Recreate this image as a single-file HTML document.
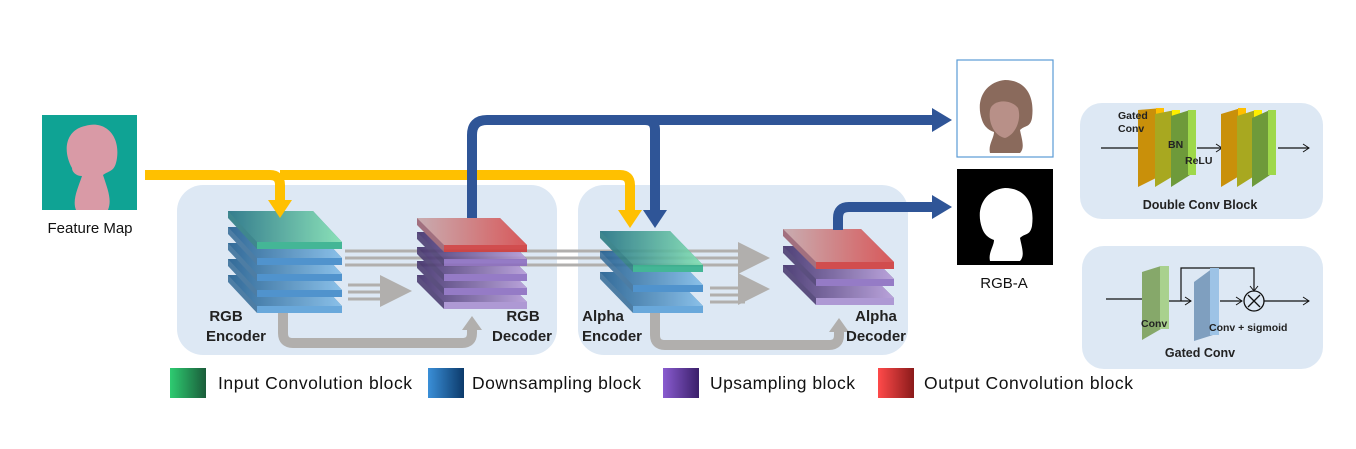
<!DOCTYPE html>
<html><head><meta charset="utf-8"><style>
html,body{margin:0;padding:0;background:#fff;}
svg{display:block;font-family:"Liberation Sans",Calibri,sans-serif;}
</style></head><body>
<svg width="1356" height="449" viewBox="0 0 1356 449" xmlns="http://www.w3.org/2000/svg">
<defs>
<linearGradient id="gG" x1="0" x2="1"><stop offset="0" stop-color="#1e6f80"/><stop offset="1" stop-color="#7fe0b0"/></linearGradient>
<linearGradient id="gB" x1="0" x2="1"><stop offset="0" stop-color="#1c5a8c"/><stop offset="1" stop-color="#7fbbe8"/></linearGradient>
<linearGradient id="gP" x1="0" x2="1"><stop offset="0" stop-color="#3c2a66"/><stop offset="1" stop-color="#b59ad8"/></linearGradient>
<linearGradient id="gR" x1="0" x2="1"><stop offset="0" stop-color="#c6a5a8"/><stop offset="1" stop-color="#d84545"/></linearGradient>
<linearGradient id="lG" x1="0" x2="1"><stop offset="0" stop-color="#2ecc71"/><stop offset="1" stop-color="#1a5c3a"/></linearGradient>
<linearGradient id="lB" x1="0" x2="1"><stop offset="0" stop-color="#3a8fd8"/><stop offset="1" stop-color="#0c3a6a"/></linearGradient>
<linearGradient id="lP" x1="0" x2="1"><stop offset="0" stop-color="#8a5cd0"/><stop offset="1" stop-color="#3a1f6a"/></linearGradient>
<linearGradient id="lR" x1="0" x2="1"><stop offset="0" stop-color="#ff4a4a"/><stop offset="1" stop-color="#8a1a1a"/></linearGradient>
</defs>

<rect x="177" y="185" width="380" height="170" rx="26" fill="#dde8f4"/>
<rect x="578" y="185" width="330" height="170" rx="26" fill="#dde8f4"/>
<rect x="1080" y="103" width="243" height="116" rx="22" fill="#dde8f4"/>
<rect x="1082" y="246" width="241" height="123" rx="22" fill="#dde8f4"/>

<rect x="42" y="115" width="95" height="95" fill="#0fa394"/>
<path d="M72 168 C62 150 66 130 85 126 C105 120 120 135 117 158 C115 172 110 170 103 175 C108 190 112 200 108 210 L76 210 C72 200 78 188 82 176 C76 176 72 172 72 168Z" fill="#d99aa6"/>
<text x="90" y="233" font-size="15" text-anchor="middle" fill="#111">Feature Map</text>

<rect x="957" y="60" width="96" height="97" fill="#fff" stroke="#5b9bd5" stroke-width="1.2"/>
<path d="M982 120 C975 100 985 82 1005 80 C1025 80 1035 95 1032 118 C1030 128 1025 125 1020 130 C1022 140 1025 148 1020 153 L990 153 C988 145 994 138 994 132 C988 130 984 126 982 120Z" fill="#8a6a5c"/>
<path d="M990 110 C992 100 1010 98 1018 108 C1022 120 1015 135 1005 138 C995 136 988 124 990 110Z" fill="#b89088"/>
<rect x="957" y="169" width="96" height="96" fill="#000"/>
<path d="M982 228 C975 208 985 190 1005 188 C1025 188 1035 203 1032 226 C1030 236 1025 233 1020 238 C1022 248 1025 256 1020 261 L990 261 C988 253 994 246 994 240 C988 238 984 234 982 228Z" fill="#fff"/>
<text x="1004" y="288" font-size="15" text-anchor="middle" fill="#111">RGB-A</text>

<g stroke="#b1afad" stroke-width="3" fill="none">
<line x1="345" y1="251" x2="745" y2="251"/><line x1="345" y1="258" x2="745" y2="258"/><line x1="345" y1="265" x2="745" y2="265"/>
<line x1="348" y1="285" x2="385" y2="285"/><line x1="348" y1="292" x2="385" y2="292"/><line x1="348" y1="299" x2="385" y2="299"/>
<line x1="710" y1="288" x2="745" y2="288"/><line x1="710" y1="295" x2="745" y2="295"/><line x1="710" y1="302" x2="745" y2="302"/>
</g>
<polygon points="380,275 412,291 380,307" fill="#b1afad"/>
<polygon points="738,242 770,258 738,274" fill="#b1afad"/>
<polygon points="738,273 770,289 738,305" fill="#b1afad"/>
<path d="M283 313 V333 Q283 343 293 343 H462 Q472 343 472 333 V328" stroke="#b1afad" stroke-width="10" fill="none"/>
<polygon points="462,330 472,316 482,330" fill="#b1afad"/>
<path d="M655 313 V335 Q655 345 665 345 H829 Q839 345 839 335 V330" stroke="#b1afad" stroke-width="10" fill="none"/>
<polygon points="829,332 839,318 849,332" fill="#b1afad"/>

<g opacity="0.88">
<polygon points="228,275 313,275 342,306 342,313 257,313 228,282" fill="#3a6f9a"/><polygon points="228,275 313,275 342,306 257,306" fill="url(#gB)"/><polygon points="257,306 342,306 342,313 257,313" fill="#5aa0d8"/>
<polygon points="228,259 313,259 342,290 342,297 257,297 228,266" fill="#3a6f9a"/><polygon points="228,259 313,259 342,290 257,290" fill="url(#gB)"/><polygon points="257,290 342,290 342,297 257,297" fill="#3d88c8"/>
<polygon points="228,243 313,243 342,274 342,281 257,281 228,250" fill="#3a6f9a"/><polygon points="228,243 313,243 342,274 257,274" fill="url(#gB)"/><polygon points="257,274 342,274 342,281 257,281" fill="#3d88c8"/>
<polygon points="228,227 313,227 342,258 342,265 257,265 228,234" fill="#3a6f9a"/><polygon points="228,227 313,227 342,258 257,258" fill="url(#gB)"/><polygon points="257,258 342,258 342,265 257,265" fill="#3d88c8"/>
<polygon points="228,211 313,211 342,242 342,249 257,249 228,218" fill="#2a7a80"/><polygon points="228,211 313,211 342,242 257,242" fill="url(#gG)"/><polygon points="257,242 342,242 342,249 257,249" fill="#2fb08a"/>
</g>
<g opacity="0.88">
<polygon points="417,275 500,275 527,302 527,309 444,309 417,282" fill="#4a3a70"/><polygon points="417,275 500,275 527,302 444,302" fill="url(#gP)"/><polygon points="444,302 527,302 527,309 444,309" fill="#a88fd0"/>
<polygon points="417,261 500,261 527,288 527,295 444,295 417,268" fill="#4a3a70"/><polygon points="417,261 500,261 527,288 444,288" fill="url(#gP)"/><polygon points="444,288 527,288 527,295 444,295" fill="#8c6cc0"/>
<polygon points="417,247 500,247 527,274 527,281 444,281 417,254" fill="#4a3a70"/><polygon points="417,247 500,247 527,274 444,274" fill="url(#gP)"/><polygon points="444,274 527,274 527,281 444,281" fill="#8c6cc0"/>
<polygon points="417,232 500,232 527,259 527,266 444,266 417,239" fill="#4a3a70"/><polygon points="417,232 500,232 527,259 444,259" fill="url(#gP)"/><polygon points="444,259 527,259 527,266 444,266" fill="#8c6cc0"/>
<polygon points="417,218 500,218 527,245 527,252 444,252 417,225" fill="#9a6070"/><polygon points="417,218 500,218 527,245 444,245" fill="url(#gR)"/><polygon points="444,245 527,245 527,252 444,252" fill="#d03838"/>
</g>
<g opacity="0.88">
<polygon points="600,272 670,272 703,306 703,313 633,313 600,279" fill="#3a6f9a"/><polygon points="600,272 670,272 703,306 633,306" fill="url(#gB)"/><polygon points="633,306 703,306 703,313 633,313" fill="#5aa0d8"/>
<polygon points="600,251 670,251 703,285 703,292 633,292 600,258" fill="#3a6f9a"/><polygon points="600,251 670,251 703,285 633,285" fill="url(#gB)"/><polygon points="633,285 703,285 703,292 633,292" fill="#3d88c8"/>
<polygon points="600,231 670,231 703,265 703,272 633,272 600,238" fill="#2a7a80"/><polygon points="600,231 670,231 703,265 633,265" fill="url(#gG)"/><polygon points="633,265 703,265 703,272 633,272" fill="#2fb08a"/>
</g>
<g opacity="0.88">
<polygon points="783,265 861,265 894,298 894,305 816,305 783,272" fill="#4a3a70"/><polygon points="783,265 861,265 894,298 816,298" fill="url(#gP)"/><polygon points="816,298 894,298 894,305 816,305" fill="#a88fd0"/>
<polygon points="783,246 861,246 894,279 894,286 816,286 783,253" fill="#4a3a70"/><polygon points="783,246 861,246 894,279 816,279" fill="url(#gP)"/><polygon points="816,279 894,279 894,286 816,286" fill="#8c6cc0"/>
<polygon points="783,229 861,229 894,262 894,269 816,269 783,236" fill="#9a6070"/><polygon points="783,229 861,229 894,262 816,262" fill="url(#gR)"/><polygon points="816,262 894,262 894,269 816,269" fill="#d03838"/>
</g>

<path d="M145 175 H270 Q280 175 280 185 V200 M280 175 H620 Q630 175 630 185 V212" stroke="#ffc000" stroke-width="10" fill="none"/>
<polygon points="268,200 292,200 280,218" fill="#ffc000"/>
<polygon points="618,210 642,210 630,228" fill="#ffc000"/>
<path d="M472 218 V135 Q472 120 487 120 H935 M645 120 Q655 120 655 130 V212" stroke="#2f5597" stroke-width="10" fill="none"/>
<polygon points="643,210 667,210 655,228" fill="#2f5597"/>
<polygon points="932,108 952,120 932,132" fill="#2f5597"/>
<path d="M838 230 V218 Q838 207 849 207 H937" stroke="#2f5597" stroke-width="10" fill="none"/>
<polygon points="932,195 952,207 932,219" fill="#2f5597"/>

<g font-size="15" font-weight="bold" fill="#222" text-anchor="middle">
<text x="226" y="321">RGB</text><text x="236" y="341">Encoder</text>
<text x="523" y="321">RGB</text><text x="522" y="341">Decoder</text>
<text x="603" y="321">Alpha</text><text x="612" y="341">Encoder</text>
<text x="876" y="321">Alpha</text><text x="876" y="341">Decoder</text>
</g>

<rect x="170" y="368" width="36" height="30" fill="url(#lG)"/>
<text x="218" y="389" font-size="17.5" fill="#111" textLength="194">Input Convolution block</text>
<rect x="428" y="368" width="36" height="30" fill="url(#lB)"/>
<text x="472" y="389" font-size="17.5" fill="#111" textLength="169">Downsampling block</text>
<rect x="663" y="368" width="36" height="30" fill="url(#lP)"/>
<text x="710" y="389" font-size="17.5" fill="#111" textLength="145">Upsampling block</text>
<rect x="878" y="368" width="36" height="30" fill="url(#lR)"/>
<text x="924" y="389" font-size="17.5" fill="#111" textLength="209">Output Convolution block</text>

<g>
<line x1="1101" y1="148" x2="1145" y2="148" stroke="#111" stroke-width="1.2"/>
<polyline points="1139,144 1145,148 1139,152" stroke="#111" fill="none"/>
<polygon points="1138,110 1162,108 1162,175 1138,187" fill="#c9900a"/><rect x="1156" y="108" width="8" height="67" fill="#ffbf00"/>
<polygon points="1155,114 1175,110 1175,175 1155,187" fill="#a8a820"/><rect x="1172" y="110" width="8" height="65" fill="#ffee00"/>
<polygon points="1171,116 1190,110 1190,175 1171,187" fill="#6e9a3a"/><rect x="1188" y="110" width="8" height="65" fill="#9ed84a"/>
<line x1="1197" y1="148" x2="1222" y2="148" stroke="#111" stroke-width="1.2"/>
<polyline points="1216,144 1222,148 1216,152" stroke="#111" fill="none"/>
<polygon points="1221,114 1241,108 1241,175 1221,187" fill="#c9900a"/><rect x="1238" y="108" width="8" height="67" fill="#ffbf00"/>
<polygon points="1237,116 1256,110 1256,175 1237,187" fill="#a8a820"/><rect x="1254" y="110" width="8" height="65" fill="#ffee00"/>
<polygon points="1252,118 1270,110 1270,175 1252,187" fill="#6e9a3a"/><rect x="1268" y="110" width="8" height="65" fill="#9ed84a"/>
<line x1="1278" y1="148" x2="1309" y2="148" stroke="#111" stroke-width="1.2"/>
<polyline points="1303,144 1309,148 1303,152" stroke="#111" fill="none"/>
<g font-size="10.5" font-weight="bold" fill="#222"><text x="1118" y="119">Gated</text><text x="1118" y="132">Conv</text><text x="1168" y="148">BN</text><text x="1185" y="164">ReLU</text></g>
<text x="1200" y="209" font-size="12.5" font-weight="bold" fill="#222" text-anchor="middle">Double Conv Block</text>
</g>

<g>
<line x1="1106" y1="299" x2="1152" y2="299" stroke="#111" stroke-width="1.2"/>
<polyline points="1146,295 1152,299 1146,303" stroke="#111" fill="none"/>
<polygon points="1142,272 1161,266 1161,329 1142,340" fill="#86a86a"/><rect x="1160" y="266" width="9" height="63" fill="#a9d18e"/>
<line x1="1169" y1="301" x2="1191" y2="301" stroke="#111" stroke-width="1.2"/>
<polyline points="1181,280 1181,268 1254,268 1254,290" stroke="#111" fill="none" stroke-width="1.2"/>
<polyline points="1250,286 1254,291 1258,286" stroke="#111" fill="none"/>
<line x1="1181" y1="280" x2="1181" y2="301" stroke="#111" stroke-width="1.2"/>
<polyline points="1185,297 1191,301 1185,305" stroke="#111" fill="none"/>
<polygon points="1194,282 1213,268 1213,335 1194,341" fill="#7f9fbf"/><rect x="1210" y="268" width="9" height="67" fill="#9dc3e6"/>
<line x1="1220" y1="301" x2="1242" y2="301" stroke="#111" stroke-width="1.2"/>
<polyline points="1236,297 1242,301 1236,305" stroke="#111" fill="none"/>
<circle cx="1254" cy="301" r="10" fill="none" stroke="#111" stroke-width="1.3"/>
<path d="M1248 295 L1260 307 M1260 295 L1248 307" stroke="#111" stroke-width="1.3"/>
<line x1="1264" y1="301" x2="1309" y2="301" stroke="#111" stroke-width="1.2"/>
<polyline points="1303,297 1309,301 1303,305" stroke="#111" fill="none"/>
<g font-size="10.5" font-weight="bold" fill="#222"><text x="1141" y="327">Conv</text><text x="1209" y="331">Conv + sigmoid</text></g>
<text x="1200" y="357" font-size="12.5" font-weight="bold" fill="#222" text-anchor="middle">Gated Conv</text>
</g>
</svg>
</body></html>
